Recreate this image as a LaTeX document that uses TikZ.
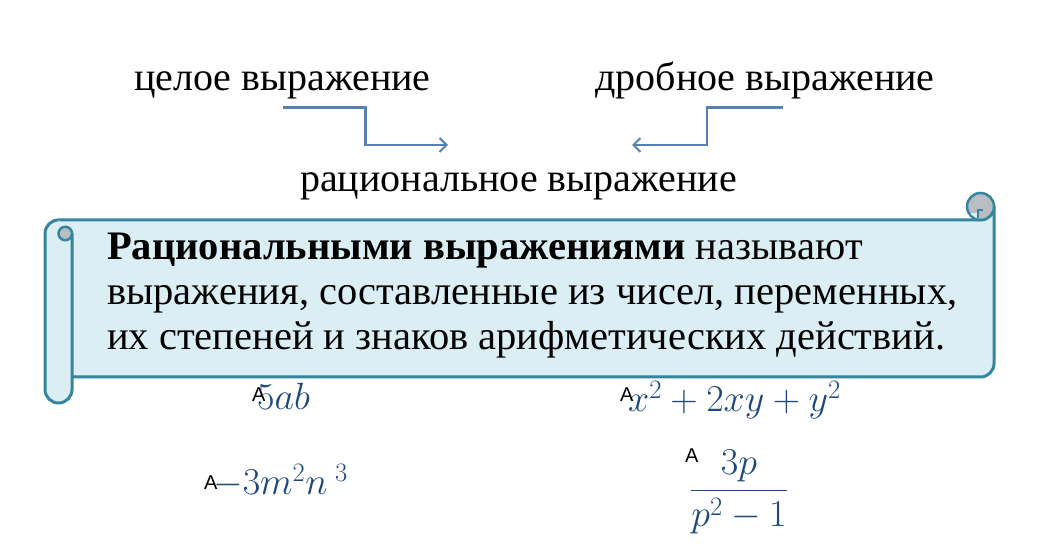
\RequirePackage{fix-cm}
\documentclass[tikz,border=0pt]{standalone}
\usepackage{amsmath}
\usepackage{fontspec}
\setmainfont{Liberation Serif}
\newfontfamily\markfont{Liberation Sans}
\usetikzlibrary{arrows.meta}
\definecolor{SCRLpale}{RGB}{219,238,244}
\definecolor{SCRLteal}{RGB}{52,133,157}
\definecolor{SCRLgrey}{RGB}{184,190,194}
\definecolor{SCRLarrow}{RGB}{88,128,176}
\definecolor{SCRLmath}{RGB}{31,73,125}
\tikzstyle{SCRLsheet}=[fill=SCRLpale, draw=SCRLteal, line width=3pt, line join=round]
\tikzstyle{SCRLcurl}=[fill=SCRLgrey, draw=SCRLteal, line width=2.5pt]
\tikzstyle{SCRLterm}=[inner sep=0pt, font=\fontsize{40}{48}\selectfont]
\tikzstyle{SCRLlink}=[draw=SCRLarrow, line width=2.5pt, -{Straight Barb[length=7pt,width=14pt,line width=2pt]}]
\tikzstyle{SCRLexpr}=[inner sep=0pt, text=SCRLmath, font=\fontsize{38}{44}\selectfont]
\tikzstyle{SCRLmark}=[inner sep=0pt, anchor=base west, font=\markfont\fontsize{20}{22}\selectfont]

\begin{document}
\begin{tikzpicture}[x=1pt, y=1pt]
    \path [use as bounding box] (0,0) rectangle (1046,553);
    % the three kinds of expression
    \node [SCRLterm, anchor=base] (whole) at (282.5,462) {целое выражение};
    \node [SCRLterm, anchor=base] (fract) at (765,462) {дробное выражение};
    \node [SCRLterm, anchor=base] (ratio) at (518.5,361) {рациональное выражение};
    \coordinate (toleft) at (448,408);
    \coordinate (toright) at (632,408);
    \draw [SCRLlink] ([yshift=-8pt]whole.south) -- ++(83,0) |- (toleft);
    \draw [SCRLlink] ([xshift=18pt,yshift=-8pt]fract.south) -- ++(-76,0) |- (toright);
    % scroll
    \path [SCRLsheet] (58.5,333) -- (980.5,333) arc (270:360:13.5) -- (994,189.5) arc (0:-90:13.5) -- (58.5,176) -- cycle;
    \path [SCRLsheet] (72,319.5) -- (72,163.5) arc (0:-180:13.5) -- (45,319.5) arc (180:90:13.5);
    \path [SCRLcurl] (65.25,319.5) circle (6.75);
    \path [SCRLcurl] (980.5,346.5) circle (13.5);
    \begin{scope}
        \clip (980.5,346.5) circle (12.2);
        \fill [SCRLpale] (966,333) rectangle (978,340);
    \end{scope}
    \draw [SCRLteal, line width=2pt] (978,334.5) -- (978,343) -- (983,343);
    \node [anchor=base west, align=left, inner sep=0pt, font=\fontsize{40.5}{45}\selectfont] (defn) at (107,203)
        {\textbf{Рациональными выражениями} называют\\выражения, составленные из чисел, переменных,\\их степеней и знаков арифметических действий.};
    % examples
    \node [SCRLexpr, anchor=base west] (mono) at (257,143) {$5ab$};
    \node [SCRLexpr, anchor=base west] (square) at (628,141) {$x^2+2xy+y^2$};
    \node [SCRLexpr, anchor=base west] (power) at (213,58) {$-3m^2n^{\;3}$};
    \node [SCRLexpr, anchor=base] (quot) at (739,53) {$\dfrac{3p}{p^2-1}$};
    \foreach \mx/\my [count=\i] in {252/151, 620/151, 204/63, 685/90}
        \node [SCRLmark] (mark\i) at (\mx,\my) {A};
\end{tikzpicture}
\end{document}
